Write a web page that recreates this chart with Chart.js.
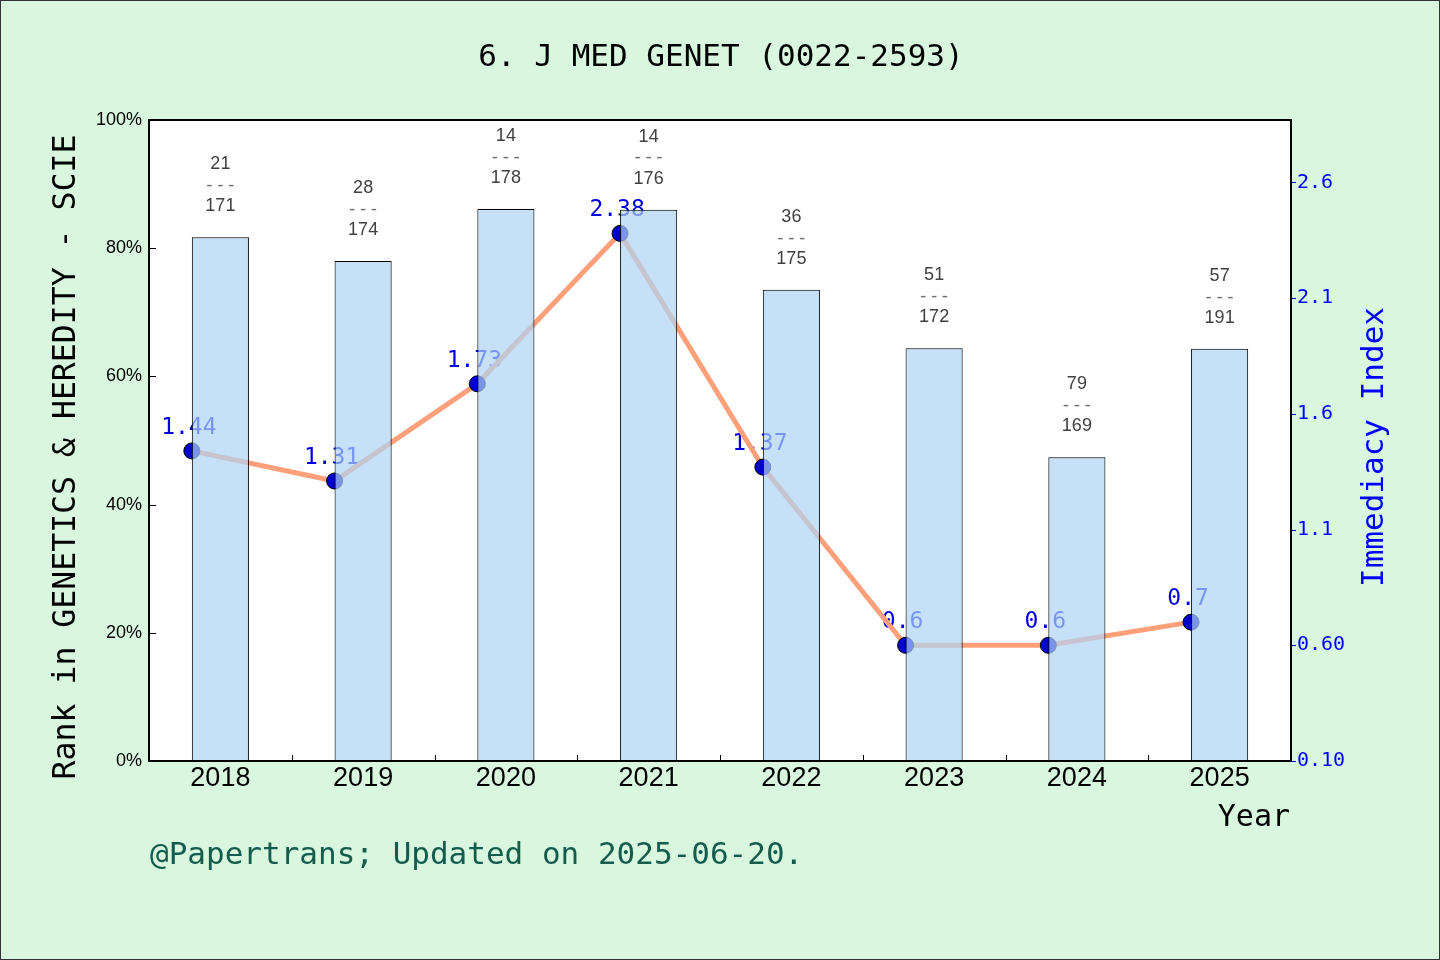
<!DOCTYPE html>
<html>
<head>
<meta charset="utf-8">
<script src="https://cdn.jsdelivr.net/npm/chart.js@4.4.1/dist/chart.umd.min.js"></script>
<style>
  html, body { margin: 0; padding: 0; background: #d9f6de; }
  #wrap { width: 1440px; height: 960px; position: relative; }
</style>
</head>
<body>
<div id="wrap"><canvas id="rankChart"></canvas></div>
<script>
// data
const years = ['2018', '2019', '2020', '2021', '2022', '2023', '2024', '2025'];
const rankPct = [81.7, 78.0, 86.1, 86.0, 73.5, 64.4, 47.4, 64.3];
const rankNo = [21, 28, 14, 14, 36, 51, 79, 57];
const journalTotal = [171, 174, 178, 176, 175, 172, 169, 191];
const immediacy = [1.44, 1.31, 1.73, 2.38, 1.37, 0.6, 0.6, 0.7];
const pctTicks = [0, 20, 40, 60, 80, 100];
const iiTicks = [0.1, 0.6, 1.1, 1.6, 2.1, 2.6];
const iiTickLabels = ['0.10', '0.60', '1.1', '1.6', '2.1', '2.6'];

const MONO = '"DejaVu Sans Mono", "Liberation Mono", monospace';
const SANS = '"Liberation Sans", Arial, sans-serif';

const decorPlugin = {
    id: 'decor',
    // the line points sit on the left edge of each bar in the original
    afterDatasetsUpdate(chart) {
        const bars = chart.getDatasetMeta(0).data;
        const pts = chart.getDatasetMeta(1).data;
        pts.forEach((p, i) => {
            if (bars[i]) p.x = bars[i].x - bars[i].width / 2;
        });
    },
    beforeDraw(chart) {
        const { ctx, chartArea: a } = chart;
        ctx.save();
        ctx.fillStyle = '#d9f6de';
        ctx.fillRect(0, 0, chart.width, chart.height);
        ctx.fillStyle = '#ffffff';
        ctx.fillRect(a.left, a.top, a.right - a.left, a.bottom - a.top);
        ctx.restore();
    },
    // immediacy labels go under the bars, like the original
    beforeDatasetsDraw(chart) {
        const { ctx } = chart;
        const meta = chart.getDatasetMeta(1);
        ctx.save();
        ctx.font = '23px ' + MONO;
        ctx.fillStyle = '#0000e0';
        ctx.textAlign = 'center';
        ctx.textBaseline = 'alphabetic';
        meta.data.forEach((pt, i) => {
            ctx.fillText(String(immediacy[i]), pt.x - 3, pt.y - 17);
        });
        ctx.restore();
    },
    afterDatasetsDraw(chart) {
        const { ctx, chartArea: a, scales } = chart;
        const meta = chart.getDatasetMeta(0);
        ctx.save();
        // rank labels above bars
        ctx.textAlign = 'center';
        ctx.textBaseline = 'middle';
        meta.data.forEach((bar, i) => {
            ctx.font = '18px ' + SANS;
            ctx.fillStyle = '#404040';
            ctx.fillText(String(rankNo[i]), bar.x, bar.y - 73);
            ctx.fillText(String(journalTotal[i]), bar.x, bar.y - 31);
            ctx.font = '18px ' + MONO;
            ctx.fillStyle = '#707070';
            ctx.fillText('---', bar.x, bar.y - 52);
        });

        // frame
        ctx.strokeStyle = '#000';
        ctx.lineWidth = 2;
        ctx.strokeRect(a.left, a.top, a.right - a.left, a.bottom - a.top);

        // left ticks (inward)
        ctx.lineWidth = 1;
        pctTicks.forEach(v => {
            const y = Math.round(scales.y.getPixelForValue(v)) + 0.5;
            ctx.beginPath();
            ctx.moveTo(a.left, y);
            ctx.lineTo(a.left + 7, y);
            ctx.stroke();
        });
        // x minor ticks between categories (inward)
        for (let i = 0; i < years.length - 1; i++) {
            const x = Math.round((scales.x.getPixelForValue(i) + scales.x.getPixelForValue(i + 1)) / 2) + 0.5;
            ctx.beginPath();
            ctx.moveTo(x, a.bottom);
            ctx.lineTo(x, a.bottom - 6);
            ctx.stroke();
        }
        // right ticks (outward, blue)
        ctx.strokeStyle = '#0000ff';
        iiTicks.forEach(v => {
            const y = Math.round(scales.y1.getPixelForValue(v)) + 0.5;
            ctx.beginPath();
            ctx.moveTo(a.right + 1, y);
            ctx.lineTo(a.right + 5, y);
            ctx.stroke();
        });
        ctx.restore();
    },
    afterDraw(chart) {
        const { ctx } = chart;
        ctx.save();
        ctx.textBaseline = 'middle';

        ctx.font = '31px ' + MONO;
        ctx.fillStyle = '#000';
        ctx.textAlign = 'center';
        ctx.fillText('6. J MED GENET (0022-2593)', 721, 58);

        ctx.textAlign = 'left';
        ctx.fillStyle = '#145c4e';
        ctx.fillText('@Papertrans; Updated on 2025-06-20.', 150, 856);

        ctx.font = '30px ' + MONO;
        ctx.fillStyle = '#000';
        ctx.textAlign = 'right';
        ctx.fillText('Year', 1290, 818);

        // axis titles, both read bottom to top
        ctx.textAlign = 'center';
        ctx.save();
        ctx.translate(67, 457);
        ctx.rotate(-Math.PI / 2);
        ctx.font = '31.5px ' + MONO;
        ctx.fillText('Rank in GENETICS & HEREDITY - SCIE', 0, 0);
        ctx.restore();

        ctx.save();
        ctx.translate(1375, 447);
        ctx.rotate(-Math.PI / 2);
        ctx.font = '31px ' + MONO;
        ctx.fillStyle = '#0000ff';
        ctx.fillText('Immediacy Index', 0, 0);
        ctx.restore();

        // outer border
        ctx.strokeStyle = '#333';
        ctx.lineWidth = 1;
        ctx.strokeRect(0.5, 0.5, chart.width - 1, chart.height - 1);
        ctx.restore();
    }
};

const ctx = document.getElementById('rankChart');
new Chart(ctx, {
    type: 'bar',
    data: {
        labels: years,
        datasets: [
            {
                type: 'bar',
                data: rankPct,
                yAxisID: 'y',
                backgroundColor: 'rgba(172, 211, 244, 0.7)',
                borderColor: '#000',
                borderWidth: 1,
                barPercentage: 0.4,
                categoryPercentage: 1.0,
                order: 0
            },
            {
                type: 'line',
                data: immediacy,
                yAxisID: 'y1',
                borderColor: '#ffa07a',
                borderWidth: 5,
                tension: 0,
                pointRadius: 8,
                pointHoverRadius: 8,
                pointBackgroundColor: '#0000cd',
                pointBorderColor: '#000',
                pointBorderWidth: 1,
                order: 1
            }
        ]
    },
    options: {
        responsive: true,
        maintainAspectRatio: false,
        animation: false,
        devicePixelRatio: 1,
        events: [],
        layout: { padding: { top: 120, left: 0, right: 0, bottom: 0 } },
        plugins: {
            legend: { display: false },
            title: { display: false },
            tooltip: { enabled: false }
        },
        scales: {
            x: {
                position: 'bottom',
                grid: { display: false, drawTicks: false },
                border: { display: false },
                ticks: { color: '#000', font: { size: 27, family: SANS }, padding: 1, maxRotation: 0 },
                afterFit: s => { s.height = 199; }
            },
            y: {
                position: 'left',
                min: 0,
                max: 100,
                grid: { display: false, drawTicks: false },
                border: { display: false },
                afterBuildTicks: s => { s.ticks = pctTicks.map(v => ({ value: v })); },
                ticks: {
                    color: '#000',
                    font: { size: 18, family: SANS },
                    padding: 7,
                    callback: v => v + '%'
                },
                afterFit: s => { s.width = 149; }
            },
            y1: {
                position: 'right',
                min: 0.1,
                max: 2.87,
                grid: { display: false, drawTicks: false },
                border: { display: false },
                afterBuildTicks: s => { s.ticks = iiTicks.map(v => ({ value: v })); },
                ticks: {
                    color: '#0000ff',
                    font: { size: 20, family: MONO },
                    padding: 6,
                    callback: (v, i) => iiTickLabels[i]
                },
                afterFit: s => { s.width = 149; }
            }
        }
    },
    plugins: [decorPlugin]
});
</script>
</body>
</html>
